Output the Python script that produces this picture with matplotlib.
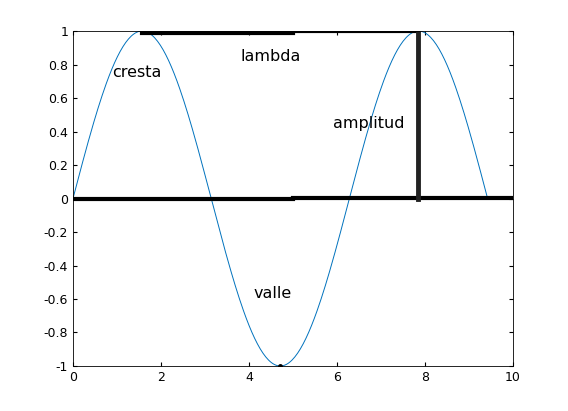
import numpy as np
import matplotlib
matplotlib.use("Agg")
import matplotlib.pyplot as plt

x_end = 3 * np.pi
xs = np.linspace(0, x_end, 300)
base_x = [0, 5, 10]; base_y = [-0.005, -0.005, 0.005]
top_x = [np.pi/2, 5, 5*np.pi/2]; top_y = [0.99, 0.99, 1.0]
amp_x = [5*np.pi/2, 5*np.pi/2]; amp_y = [0, 1]
pts_x = [np.pi/2, 3*np.pi/2]; pts_y = [1, -1]
labels = [("cresta", 0.9, 0.75), ("lambda", 3.8, 0.85), ("amplitud", 5.9, 0.45), ("valle", 4.1, -0.57)]

fig = plt.figure(figsize=(5.68, 4.11), dpi=100)
ax = fig.add_axes([0.1285, 0.1095, 0.7745, 0.815])
ax.plot(xs, np.sin(xs), color="#0072BD", lw=0.7)
ax.plot([0, 5], [-0.005, -0.005], color="black", lw=3)
ax.plot([5, 10], [0.005, 0.005], color="black", lw=3)
ax.plot([np.pi/2, 5], [0.99, 0.99], color="black", lw=3)
ax.plot([5, 5*np.pi/2], [1.0, 1.0], color="black", lw=3)
ax.plot(amp_x, amp_y, color="#222222", lw=3.5)
ax.plot(pts_x, pts_y, "k.", ms=5)
for t, tx, ty in labels:
    ax.text(tx, ty, t, fontsize=11.5, va="center")
ax.set_xlim(0, 10); ax.set_ylim(-1, 1)
ax.set_xticks(np.arange(0, 11, 2))
ax.set_yticks(np.round(np.arange(-1, 1.01, 0.2), 1))
ax.set_yticklabels(["-1", "-0.8", "-0.6", "-0.4", "-0.2", "0", "0.2", "0.4", "0.6", "0.8", "1"])
ax.tick_params(direction="in", labelsize=9, top=True, right=True, length=3)
for s in ax.spines.values():
    s.set_linewidth(0.6)
fig.savefig("out.png")
